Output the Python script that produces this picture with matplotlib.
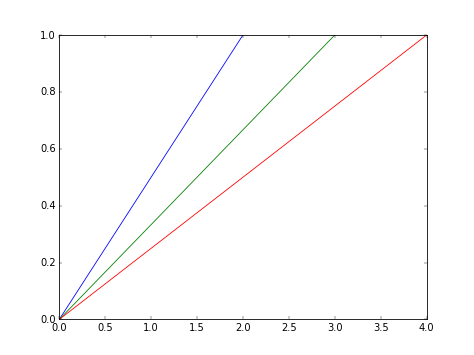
import matplotlib
matplotlib.use('Agg')
import matplotlib.pyplot as plt

# line end points (x, y)
x_vals = [0, 2, 3, 4]
blue_x = [0, 2]
green_x = [0, 3]
red_x = [0, 4]
y_vals = [0, 1]

plt.style.use('classic')
fig = plt.figure(figsize=(8, 6), dpi=59.25)
ax = fig.add_subplot(111)
ax.plot(blue_x, y_vals, color='b')
ax.plot(green_x, y_vals, color='g')
ax.plot(red_x, y_vals, color='r')
ax.set_xlim(0, 4)
ax.set_ylim(0, 1)

fig.savefig('out.png', dpi=59.25)
